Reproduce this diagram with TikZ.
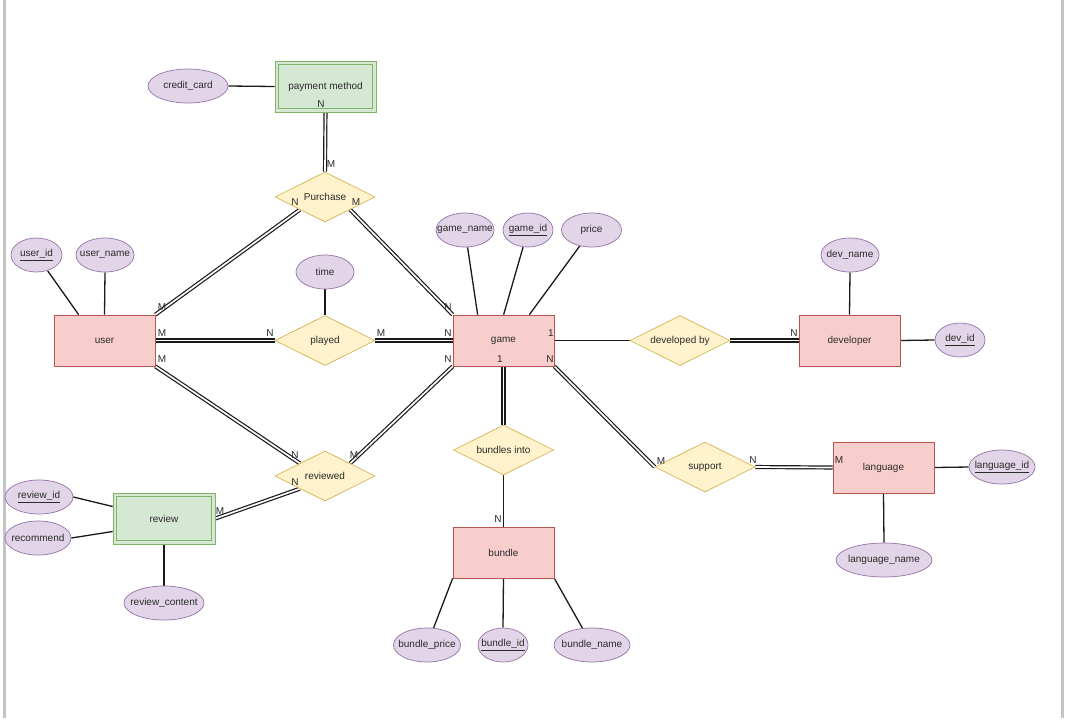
\documentclass[tikz,border=0pt]{standalone}
\usepackage{fontspec}
\setmainfont{Liberation Sans}
\usetikzlibrary{shapes.geometric,calc,backgrounds}
\definecolor{entf}{HTML}{F8CECC}
\definecolor{entd}{HTML}{B85450}
\definecolor{wkf}{HTML}{D5E8D4}
\definecolor{wkd}{HTML}{82B366}
\definecolor{atf}{HTML}{E1D5E7}
\definecolor{atd}{HTML}{9673A6}
\definecolor{rlf}{HTML}{FFF2CC}
\definecolor{rld}{HTML}{D6B656}
\definecolor{txt}{HTML}{2B2B2B}
\definecolor{lnk}{HTML}{1A1A1A}
\definecolor{frame}{HTML}{C4C4C4}
\newcommand\zw[1]{\makebox[0pt]{#1}}
\begin{document}
\begin{tikzpicture}[x=1pt,y=-1pt,
  every node/.style={font=\fontsize{10pt}{12pt}\selectfont, text=txt},
  ent/.style={rectangle, draw=entd, fill=entf, line width=0.7pt, minimum width=101pt, minimum height=51pt, inner sep=0pt},
  weak/.style={rectangle, draw=wkd, fill=wkf, line width=0.7pt, minimum width=101pt, minimum height=51pt, inner sep=0pt},
  inner/.style={draw=wkd, line width=0.7pt},
  attr/.style={ellipse, draw=atd, fill=atf, line width=0.7pt, minimum height=34pt, inner sep=0pt},
  rel/.style={diamond, draw=rld, fill=rlf, line width=0.7pt, minimum width=100pt, minimum height=50pt, inner sep=0pt},
  card/.style={inner sep=0pt, font=\fontsize{10pt}{12pt}\selectfont},
  sline/.style={draw=lnk, line width=1.3pt},
  dline/.style={draw=lnk, line width=1.2pt, double=white, double distance=1.7pt},
]
\useasboundingbox (0,0) rectangle (1074,718);

% nodes
\node[weak] (pm) at (325.5,86.5) {payment method};
\node[attr, minimum width=80pt] (cc) at (188,86) {\zw{credit\_card}};
\node[rel] (pur) at (325,197) {\zw{Purchase}};
\node[attr, minimum width=51pt] (uid) at (36.5,255) {\zw{\underline{user\_id}}};
\node[attr, minimum width=58pt] (uname) at (105,255) {\zw{user\_name}};
\node[ent] (user) at (104.5,340.5) {user};
\node[attr, minimum width=58pt] (time) at (325,272) {\zw{time}};
\node[rel] (played) at (325,340.5) {\zw{played}};
\node[ent] (game) at (503.5,340.5) {game};
\node[attr, minimum width=58pt] (gname) at (465,230) {\zw{game\_name}};
\node[attr, minimum width=50pt] (gid) at (528,230) {\zw{\underline{game\_id}}};
\node[attr, minimum width=60pt] (price) at (591.5,230) {\zw{price}};
\node[rel] (dev) at (680,340.5) {\zw{developed by}};
\node[ent] (developer) at (849.5,340.5) {developer};
\node[attr, minimum width=58pt] (dname) at (850,255) {\zw{dev\_name}};
\node[attr, minimum width=50pt] (did) at (960,340) {\zw{\underline{dev\_id}}};
\node[rel] (bi) at (503.5,450) {\zw{bundles into}};
\node[ent] (bundle) at (503.5,552.5) {bundle};
\node[attr, minimum width=67pt] (bprice) at (427,645) {\zw{bundle\_price}};
\node[attr, minimum width=50pt] (bid) at (503,645) {\zw{\underline{bundle\_id}}};
\node[attr, minimum width=76pt] (bname) at (592,645) {\zw{bundle\_name}};
\node[rel] (sup) at (705,467) {\zw{support}};
\node[ent] (lang) at (883.5,467.5) {language};
\node[attr, minimum width=66pt] (lid) at (1002,467) {\zw{\underline{language\_id}}};
\node[attr, minimum width=96pt] (lname) at (884,560) {\zw{language\_name}};
\node[rel] (rev) at (325,476) {\zw{reviewed}};
\node[weak, minimum width=102pt] (review) at (164,518.5) {review};
\node[attr, minimum width=68pt] (rid) at (39,497) {\zw{\underline{review\_id}}};
\node[attr, minimum width=66pt] (rec) at (38,538) {\zw{recommend}};
\node[attr, minimum width=80pt] (rc) at (164,603) {\zw{review\_content}};

% inner borders of the weak entities
\draw[inner] ($(pm.north west)+(4,4)$) rectangle ($(pm.south east)+(-4,-4)$);
\draw[inner] ($(review.north west)+(4,4)$) rectangle ($(review.south east)+(-4,-4)$);

% cardinality labels
\node[card] (c1) at (321,104) {N};
\node[card] (c2) at (331,164) {M};
\node[card] (c3) at (295,202) {N};
\node[card] (c4) at (356,202) {M};
\node[card] (c5) at (162,307) {M};
\node[card] (c6) at (162,333) {M};
\node[card] (c7) at (162,359) {M};
\node[card] (c8) at (270,333) {N};
\node[card] (c9) at (381,333) {M};
\node[card] (c10) at (448,307) {N};
\node[card] (c11) at (448,333) {N};
\node[card] (c12) at (448,359) {N};
\node[card] (c13) at (551,333) {1};
\node[card] (c14) at (500,359) {1};
\node[card] (c15) at (550,359) {N};
\node[card] (c16) at (794,333) {N};
\node[card] (c17) at (498,519) {N};
\node[card] (c18) at (661,461) {M};
\node[card] (c19) at (753,460) {N};
\node[card] (c20) at (839,460) {M};
\node[card] (c21) at (295,455) {N};
\node[card] (c22) at (354,455) {M};
\node[card] (c23) at (295,482) {N};
\node[card] (c24) at (220,511) {M};

\begin{scope}[on background layer]
\fill[white] (0,0) rectangle (1074,718);
\fill[frame] (3,0) rectangle (6,718);
\fill[frame] (1061,0) rectangle (1064,718);
% connectors
\draw[sline] (cc.east) -- (pm.west);
\draw[dline] (pm.south) -- (pur.north);
\draw[dline] (pur.south west) -- (user.north east);
\draw[dline] (pur.south east) -- (game.north west);
\draw[dline] (user.east) -- (played.west);
\draw[dline] (played.east) -- (game.west);
\draw[sline] (time.south) -- (played.north);
\draw[sline] (uid) -- ($(user.north west)+(25,0)$);
\draw[sline] (uname.south) -- (user.north);
\draw[sline] (gname) -- ($(game.north west)+(25,0)$);
\draw[sline] (gid) -- ($(game.north west)+(51,0)$);
\draw[sline] (price) -- ($(game.north east)+(-25,0)$);
\draw[sline] (game.east) -- (dev.west);
\draw[dline] (dev.east) -- (developer.west);
\draw[sline] (dname.south) -- (developer.north);
\draw[sline] (developer.east) -- (did.west);
\draw[dline] (game.south) -- (bi.north);
\draw[sline] (bi.south) -- (bundle.north);
\draw[sline] (bundle.south west) -- (bprice);
\draw[sline] (bundle.south) -- (bid.north);
\draw[sline] (bundle.south east) -- (bname);
\draw[dline] (game.south east) -- (sup.west);
\draw[dline] (sup.east) -- (lang.west);
\draw[sline] (lang.east) -- (lid.west);
\draw[sline] (lang.south) -- (lname.north);
\draw[dline] (user.south east) -- (rev.north west);
\draw[dline] (game.south west) -- (rev.north east);
\draw[dline] (review.east) -- (rev.south west);
\draw[sline] (rid.east) -- ($(review.west)+(0,-12)$);
\draw[sline] (rec.east) -- ($(review.west)+(0,13)$);
\draw[sline] (review.south) -- (rc.north);
\end{scope}
\end{tikzpicture}
\end{document}
